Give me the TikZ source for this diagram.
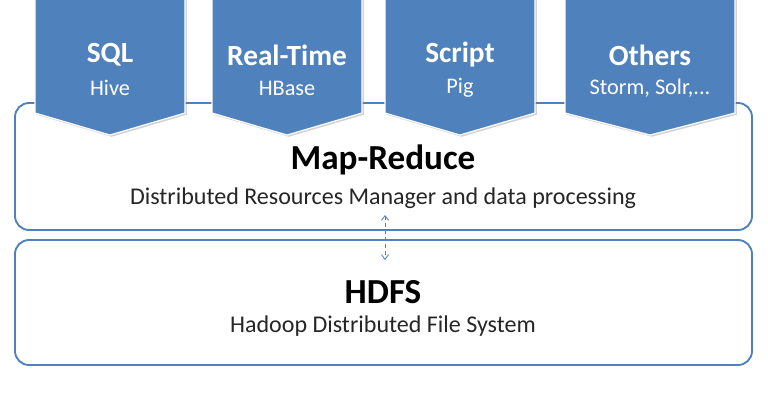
\documentclass[tikz,border=0pt]{standalone}
\usepackage{fontspec}
\setmainfont{Carlito}
\usetikzlibrary{shadows,arrows.meta}
\definecolor{hblue}{HTML}{4F81BD}
\definecolor{htext}{HTML}{262626}
\begin{document}
\begin{tikzpicture}[x=0.03cm, y=-0.03cm,
    layer/.style = {draw=hblue, line width=1.6pt, rounded corners=12, fill=white},
    chev/.style  = {fill=hblue, draw=white, line width=1pt, drop shadow={shadow xshift=1.5pt, shadow yshift=-1.5pt, opacity=0.35}},
    head/.style  = {text=white, font=\bfseries\fontsize{25}{28}\selectfont},
    sub/.style   = {text=white, font=\fontsize{19}{22}\selectfont},
    big/.style   = {text=black, font=\bfseries\fontsize{30}{34}\selectfont},
    desc/.style  = {text=htext, font=\fontsize{20.5}{24}\selectfont}]
    \useasboundingbox (0,0) rectangle (768,410);

    \draw[layer] (15,103) rectangle (752,230);
    \draw[layer] (15,240) rectangle (752,365);

    % tool chevrons on top of the map-reduce layer
    \foreach \l/\r in {35/185, 212/362, 385/535, 565/735} {
      \path[chev] (\l,-2) -- (\r,-2) -- (\r,113) -- ({(\l+\r)/2},135) -- (\l,113) -- cycle;
    }

    \node[head] (sql)    at (110,55) {SQL};
    \node[sub]  (hive)   at (110,88) {Hive};
    \node[head] (rt)     at (287,55) {Real-Time};
    \node[sub]  (hbase)  at (287,88) {HBase};
    \node[head] (script) at (460,55) {Script};
    \node[sub]  (pig)    at (460,88) {Pig};
    \node[head] (others) at (650,55) {Others};
    \node[sub]  (storm)  at (650,88) {Storm, Solr,...};

    \node[big]  (mr)     at (383,160) {Map-Reduce};
    \node[desc] (mrdesc) at (383,198) {Distributed Resources Manager and data processing};
    \node[big]  (hdfs)   at (383,292) {HDFS};
    \node[desc] (hddesc) at (383,326) {Hadoop Distributed File System};

    \coordinate (up) at (385,215);
    \coordinate (down) at (385,260);
    \draw[{Straight Barb[length=4pt,width=6pt]}-{Straight Barb[length=4pt,width=6pt]}, hblue, dashed, line width=0.7pt] (up) -- (down);
\end{tikzpicture}
\end{document}
